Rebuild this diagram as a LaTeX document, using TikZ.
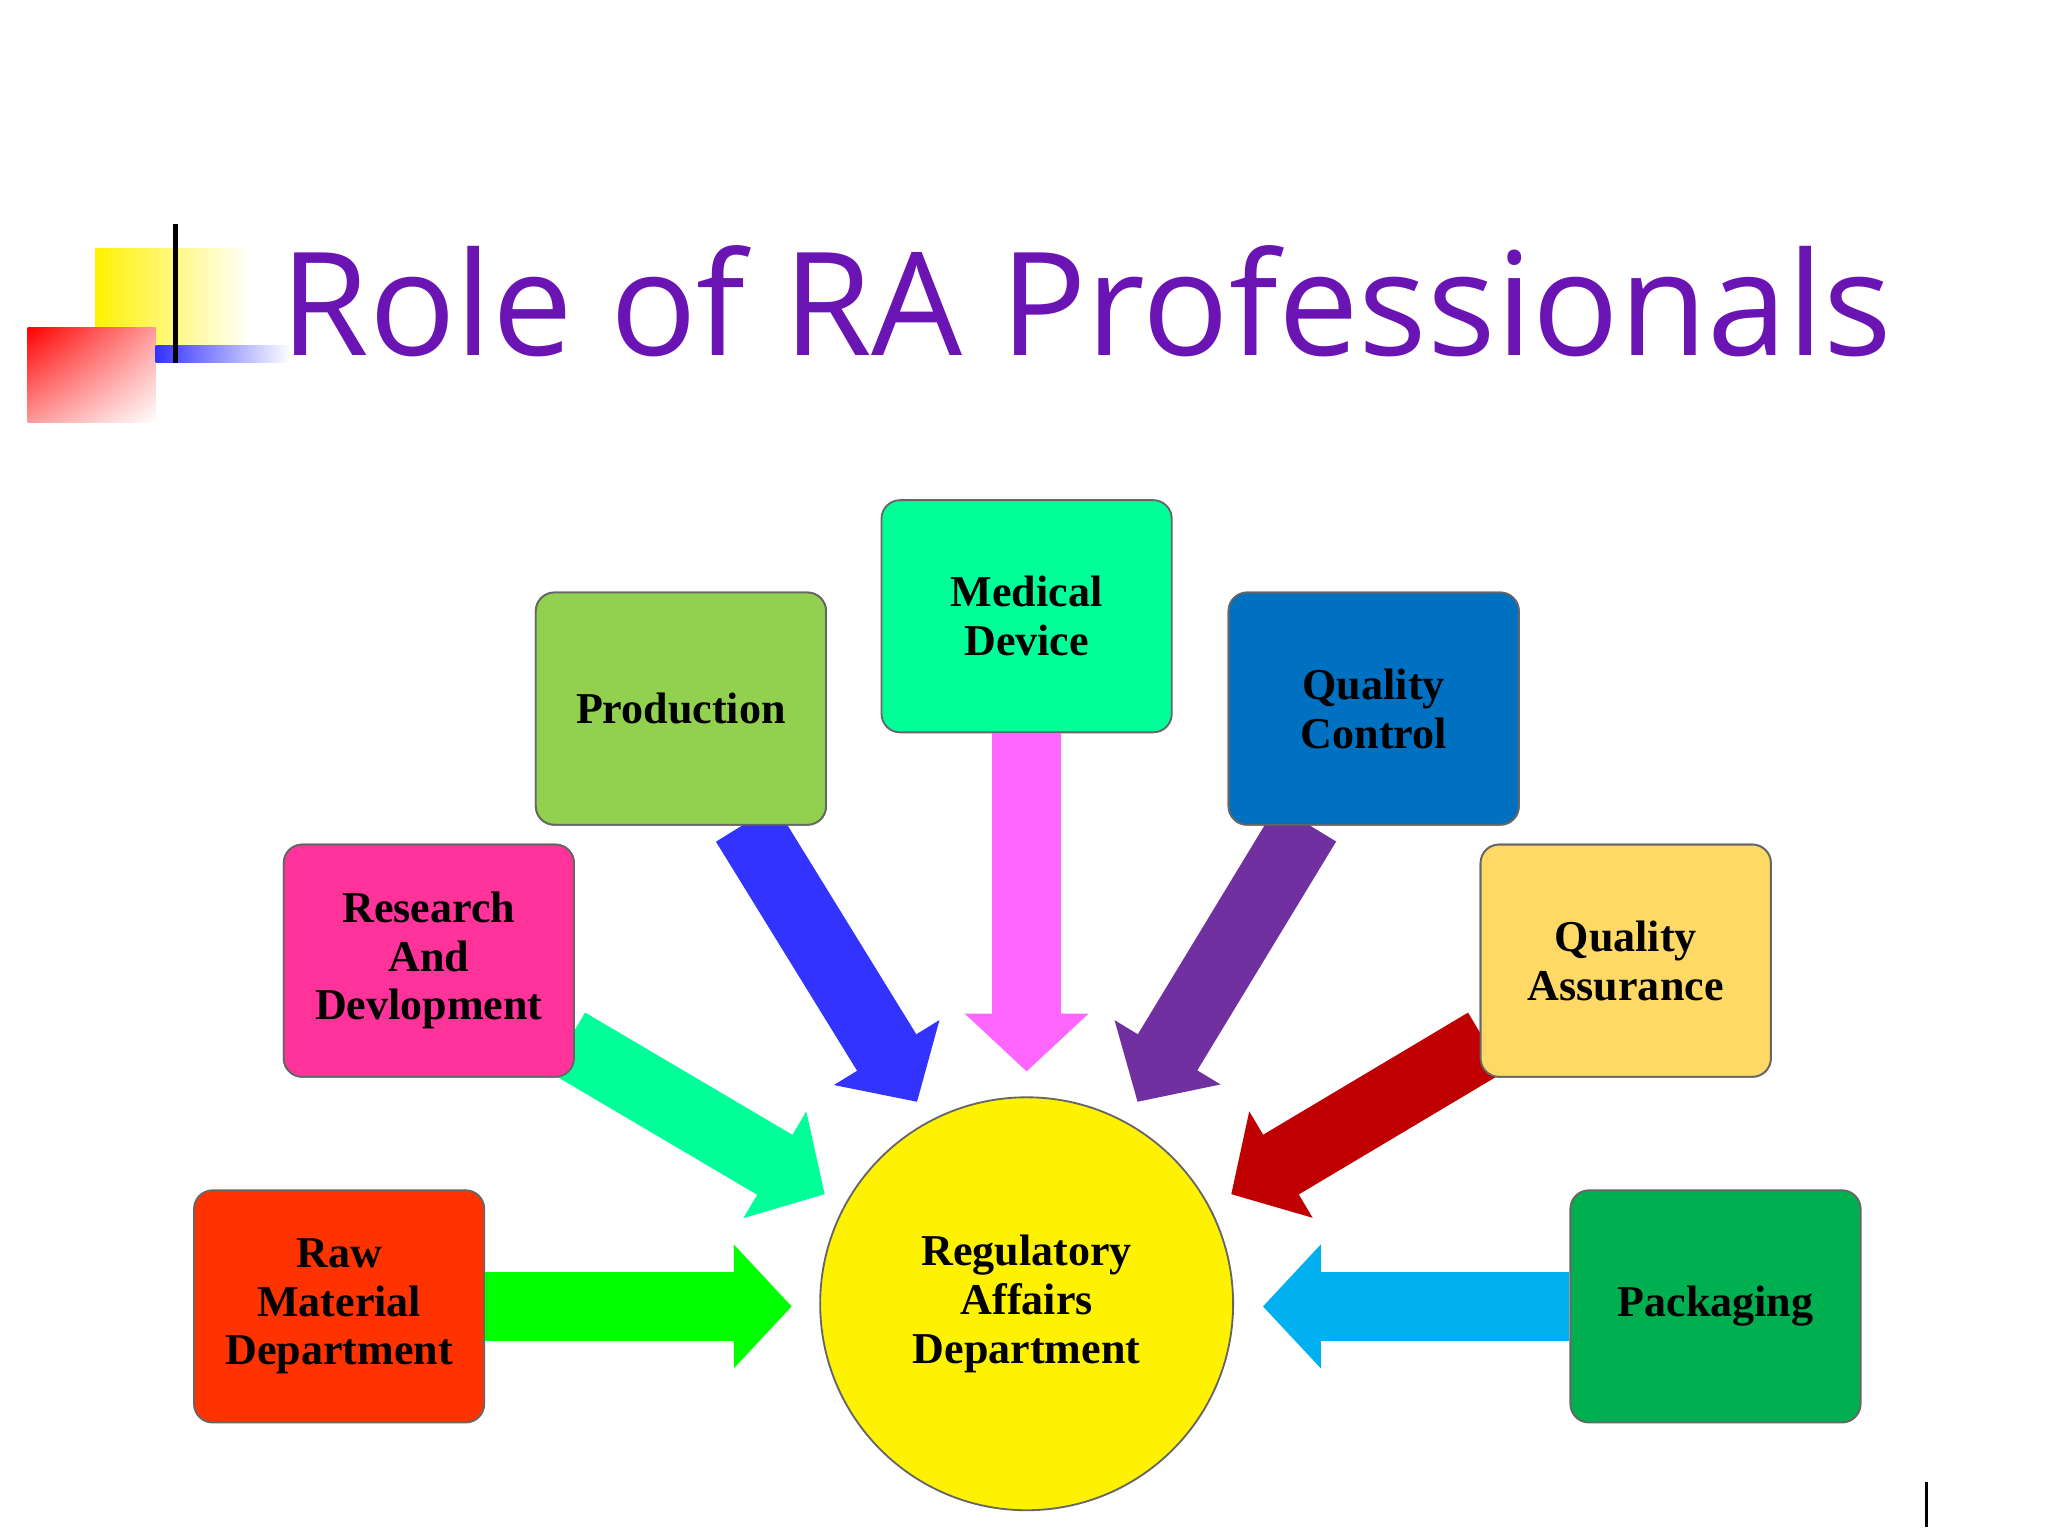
\documentclass[tikz,border=0pt]{standalone}
\usepackage{fontspec}
\setmainfont{Liberation Serif}
\newfontfamily\titlefont{Open Sans}
\usetikzlibrary{arrows.meta,shadings}
\definecolor{cRaw}{HTML}{FF3300}
\definecolor{cRes}{HTML}{FF3399}
\definecolor{cPro}{HTML}{92D050}
\definecolor{cMed}{HTML}{00FF99}
\definecolor{cQC}{HTML}{0070C0}
\definecolor{cQA}{HTML}{FFD966}
\definecolor{cPack}{HTML}{00B050}
\definecolor{cTitle}{HTML}{6A14B4}
\tikzset{
  box/.style={draw=black!60, line width=0.8pt, rounded corners=8pt, minimum width=4.4cm, minimum height=3.52cm, align=center, font=\fontsize{19}{21}\selectfont\bfseries, inner sep=2pt},
  blk/.style={line width=30pt, -{Triangle[length=25pt,width=52pt]}},
}
\begin{document}
\begin{tikzpicture}[x=0.02cm,y=-0.02cm]
\useasboundingbox[fill=white] (0,0) rectangle (1552,1164);
% logo
\shade[left color=yellow!90!orange, right color=white] (72,188) rectangle (190,275);
\shade[upper left=red, lower right=white, upper right=red!40, lower left=red!40] (21,248) rectangle (118,320);
\shade[left color=blue!80, right color=white] (118,262) rectangle (220,275);
\draw[line width=2.2pt] (133,170) -- (133,275);
\node[anchor=west, text=cTitle, font=\titlefont\fontsize{62}{70}\selectfont, inner sep=0] (title) at (212,228) {Role of RA Professionals};
% nodes
\node[box, fill=cRaw] (raw) at (257,990) {Raw\\Material\\Department};
\node[box, fill=cRes] (res) at (325,728) {Research\\And\\Devlopment};
\node[box, fill=cPro] (pro) at (516,537) {Production};
\node[box, fill=cMed] (med) at (778,467) {Medical\\Device};
\node[box, fill=cQC] (qc) at (1041,537) {Quality\\Control};
\node[box, fill=cQA] (qa) at (1232,728) {Quality\\Assurance};
\node[box, fill=cPack] (pack) at (1300,990) {Packaging};
\node[circle, draw=black!60, line width=0.8pt, fill=yellow, minimum size=6.26cm, align=center, font=\fontsize{19}{21}\selectfont\bfseries] (ra) at (778,988) {Regulatory\\Affairs\\Department};
% arrow ends
\coordinate (eRaw) at (600,990);
\coordinate (eRes) at (625,905);
\coordinate (ePro) at (695,835);
\coordinate (eMed) at (778,812);
\coordinate (eQC) at (862,835);
\coordinate (eQA) at (933,905);
\coordinate (ePack) at (957,990);
\coordinate (sRes) at (430,790);
\coordinate (sPro) at (565,624);
\coordinate (sQC) at (990,624);
\coordinate (sQA) at (1126,790);
\draw[blk, draw=green, fill=green] (raw.east) -- (eRaw);
\draw[blk, draw=cMed, fill=cMed] (sRes) -- (eRes);
\draw[blk, draw={rgb,255:red,51;green,51;blue,255}, fill={rgb,255:red,51;green,51;blue,255}] (sPro) -- (ePro);
\draw[blk, draw={rgb,255:red,255;green,102;blue,255}, fill={rgb,255:red,255;green,102;blue,255}] (med.south) -- (eMed);
\draw[blk, draw={rgb,255:red,112;green,48;blue,160}, fill={rgb,255:red,112;green,48;blue,160}] (sQC) -- (eQC);
\draw[blk, draw={rgb,255:red,192;green,0;blue,0}, fill={rgb,255:red,192;green,0;blue,0}] (sQA) -- (eQA);
\draw[blk, draw={rgb,255:red,0;green,176;blue,240}, fill={rgb,255:red,0;green,176;blue,240}] (pack.west) -- (ePack);
% redraw boxes on top of arrow starts
\node[box, fill=cRes] at (res) {Research\\And\\Devlopment};
\node[box, fill=cPro] at (pro) {Production};
\node[box, fill=cQC] at (qc) {Quality\\Control};
\node[box, fill=cQA] at (qa) {Quality\\Assurance};
\coordinate (m1) at (1460,1123);
\coordinate (m2) at (1460,1157);
\draw[line width=1.2pt] (m1) -- (m2);
\end{tikzpicture}
\end{document}
